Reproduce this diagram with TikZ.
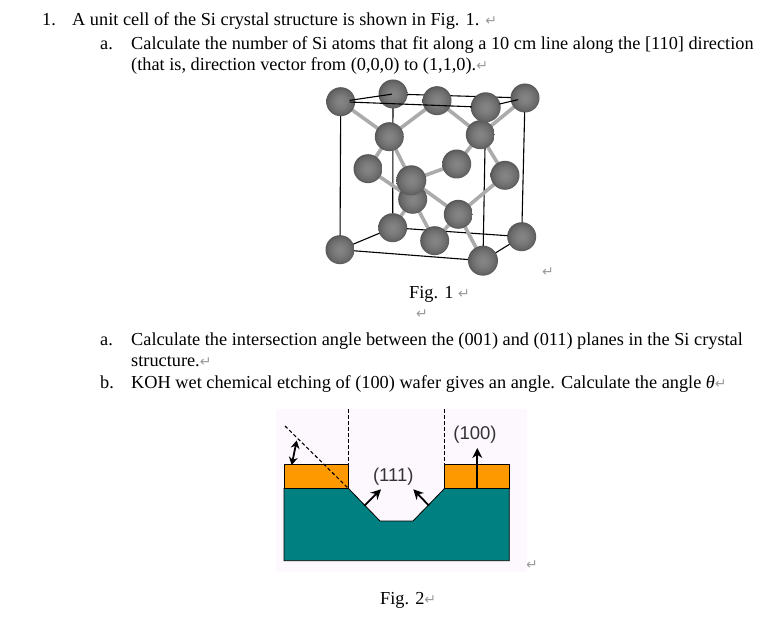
\documentclass[tikz,border=0pt]{standalone}
\usepackage{fontspec}
\setmainfont{Liberation Serif}
\setsansfont{Liberation Sans}
\newfontfamily\retfont{DejaVu Sans}
\usetikzlibrary{arrows.meta}
\pgfdeclarelayer{bondlayer}
\pgfdeclarelayer{frontlayer}
\pgfsetlayers{bondlayer,main,frontlayer}
\newcommand{\retmark}{{\retfont\fontsize{14}{14}\selectfont\textcolor{retgray}{↵}}}
\definecolor{retgray}{HTML}{9A9A9A}
\definecolor{atomgray}{HTML}{7C7C7C}
\definecolor{wafer}{HTML}{008080}
\definecolor{maskor}{HTML}{FF9900}
\definecolor{figbg}{HTML}{FDF7FE}
\definecolor{bondgray}{HTML}{ABABAB}
\definecolor{labelgray}{HTML}{333333}
\pgfdeclareradialshading{atomshade}{\pgfpoint{0bp}{0bp}}{%
  color(0bp)=(atomgray!92!white);color(10bp)=(atomgray);color(20bp)=(atomgray!85!black);color(27bp)=(atomgray!65!black);color(32bp)=(atomgray!50!black);color(50bp)=(atomgray!50!black)}
\tikzset{
  x=1pt,y=-1pt,
  atom/.style={circle,inner sep=0pt,minimum size=29pt,shading=atomshade},
  bigatom/.style={atom,minimum size=30pt},
  bond/.style={draw=bondgray,line width=3.6pt},
  edge/.style={draw=black,line width=1.1pt},
  txt/.style={anchor=base west,inner sep=0pt,font=\fontsize{18.3}{20}\selectfont},
  ret/.style={inner sep=0pt},
  arrowline/.style={draw=black,line width=1.8pt,-{Stealth[length=10pt,width=10pt]}},
  dualarrow/.style={draw=black,line width=1.8pt,{Stealth[length=8pt,width=9pt]}-{Stealth[length=8pt,width=9pt]}},
  dashline/.style={draw=black,line width=1.1pt,dash pattern=on 3.5pt off 2.5pt},
  plabel/.style={inner sep=0pt,text=labelgray,font=\sffamily\fontsize{18.5}{20}\selectfont},
}
\begin{document}
\begin{tikzpicture}
\useasboundingbox (0,0) rectangle (777,623);
% text
\node[txt] (t1n) at (42,25.5) {1.};
\node[txt] (t1) at (72,25.5) {A unit cell of the Si crystal structure is shown in Fig. 1. \retmark};
\node[txt] (t2n) at (100,49.5) {a.};
\node[txt] (t2) at (131,49.5) {Calculate the number of Si atoms that fit along a 10 cm line along the [110] direction};
\node[txt] (t3) at (131,70.5) {(that is, direction vector from (0,0,0) to (1,1,0).\retmark};
\node[txt] (f1) at (409,298) {Fig. 1 \retmark};
\node[ret] (r1) at (548,272) {\retmark};
\node[ret] (r2) at (422,314) {\retmark};
\node[txt] (t4n) at (100,345) {a.};
\node[txt] (t4) at (131,345) {Calculate the intersection angle between the (001) and (011) planes in the Si crystal};
\node[txt] (t5) at (131,366) {structure.\retmark};
\node[txt] (t6n) at (100,388) {b.};
\node[txt] (t6) at (131,388) {KOH wet chemical etching of (100) wafer gives an angle. Calculate the angle \textit{θ}\retmark};
\node[txt] (f2) at (380,604) {Fig. 2\retmark};
\node[ret] (r3) at (532,565) {\retmark};
% Fig 1 atoms
\node[atom] (B) at (393,94) {};
\node[atom] (N) at (392.7,227.7) {};
\node[atom] (P) at (521.7,236.7) {};
\node[atom] (E) at (525,98) {};
\node[atom] (O) at (434.7,240.7) {};
\node[atom] (H) at (368,168.7) {};
\node[atom] (I) at (456.7,164) {};
\node[atom] (J) at (505,175.3) {};
\node[atom] (L) at (412.7,199.3) {};
\node[atom] (M) at (458.3,214.3) {};
\node[atom] (F) at (389.3,136.7) {};
\node[atom] (G) at (480.3,134.7) {};
\node[atom] (C) at (437,100.7) {};
\node[atom] (A) at (340.7,101.7) {};
\node[atom] (Q) at (340,249.7) {};
\node[bigatom] (K) at (411.3,180.3) {};
\node[bigatom] (D) at (485.7,107.3) {};
\node[bigatom] (R) at (483,260.7) {};
\begin{pgfonlayer}{bondlayer}
  \foreach \a/\b in {A/Q,B/N,D/R,E/P,Q/N,Q/R,N/P,R/P,B/E}
    \draw[edge] (\a.center) -- (\b.center);
  \foreach \a/\b in {A/F,C/F,C/G,E/G,F/H,F/K,G/I,G/J,H/L,I/K,K/M,J/M,L/N,L/O,M/O,M/R}
    \draw[bond] (\a.center) -- (\b.center);
\end{pgfonlayer}
\begin{pgfonlayer}{frontlayer}
  \draw[edge,shorten <=9pt,shorten >=1pt] (A.center) -- (B.center);
  \draw[edge,shorten <=9pt,shorten >=14pt] (A.center) -- (D.center);
  \draw[edge,shorten <=14pt,shorten >=7pt] (D.center) -- (E.center);
\end{pgfonlayer}
% Fig 2
\fill[figbg] (276,409) rectangle (527,572);
\coordinate (w1) at (284,488.3);
\coordinate (w2) at (348.3,488.3);
\coordinate (w3) at (380,521);
\coordinate (w4) at (413,521);
\coordinate (w5) at (444.7,488.3);
\coordinate (w6) at (509.3,488.3);
\coordinate (w7) at (509.3,560.7);
\coordinate (w8) at (284,560.7);
\draw[fill=wafer,line width=0.8pt] (w1)--(w2)--(w3)--(w4)--(w5)--(w6)--(w7)--(w8)--cycle;
\draw[fill=maskor,line width=0.8pt] (284,464.3) rectangle (348.3,488.3);
\draw[fill=maskor,line width=0.8pt] (444.7,464.3) rectangle (509.3,488.3);
\coordinate (d1a) at (348.3,409);
\coordinate (d1b) at (348.3,464.3);
\coordinate (d2a) at (444.7,409);
\coordinate (d2b) at (444.7,464.3);
\coordinate (d3a) at (285,426);
\draw[dashline] (d1a) -- (d1b);
\draw[dashline] (d2a) -- (d2b);
\draw[dashline] (d3a) -- (w2);
\coordinate (a1a) at (291.7,465);
\coordinate (a1b) at (296.7,440.5);
\coordinate (a2a) at (477.3,488.3);
\coordinate (a2b) at (477.3,448);
\coordinate (a3a) at (364.3,505.7);
\coordinate (a3b) at (381,489.3);
\coordinate (a4a) at (429,505.7);
\coordinate (a4b) at (413.3,489.3);
\draw[dualarrow] (a1a) -- (a1b);
\draw[arrowline] (a2a) -- (a2b);
\draw[arrowline] (a3a) -- (a3b);
\draw[arrowline] (a4a) -- (a4b);
\node[plabel] (l111) at (393.3,476.7) {(111)};
\node[plabel] (l100) at (475,435) {(100)};
\end{tikzpicture}
\end{document}
